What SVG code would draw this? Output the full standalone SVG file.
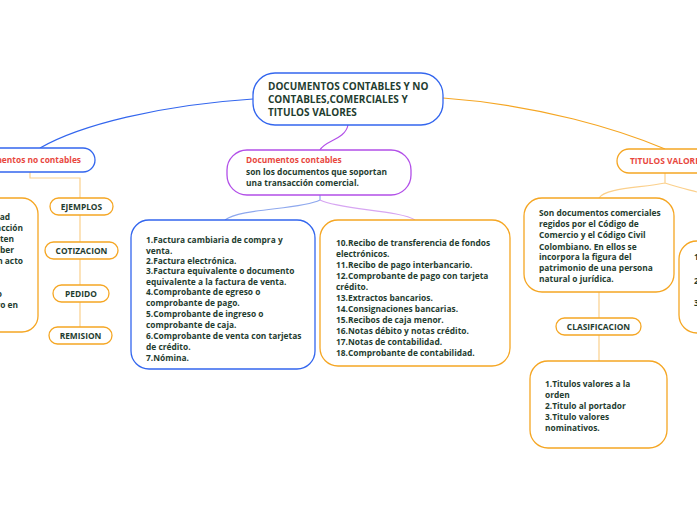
<svg xmlns="http://www.w3.org/2000/svg" width="697" height="520" viewBox="0 0 697 520">
<style>
text{font-family:"Open Sans","Noto Sans",sans-serif;font-weight:bold;font-size:8.4px;fill:#1f3d30}
.t{font-size:10px}
.r{fill:#e8473e}
.c{text-anchor:middle}
rect{fill:#fff;stroke-width:1.3}
.o{stroke:#f5a623}.b{stroke:#3366ee}.p{stroke:#b24fe8}
path{fill:none;stroke-width:1.2}
.lo{stroke:#fbd08c}
</style>
<rect width="697" height="520" fill="#fff" stroke="none"/>
<g id="connectors">
<path d="M253,99 C160,105 80,125 40,148" stroke="#3366ee"/>
<path d="M348,125 C345,140 325,140 320,150" stroke="#b24fe8"/>
<path d="M443,98 C540,105 620,130 665,149" stroke="#f5a623"/>
<path class="lo" d="M30,172 V178 H80 V327 M80,178 V198"/>
<path d="M320,195 V200 C300,210 240,208 225,220" stroke="#8ea8ee"/>
<path d="M320,200 C340,210 400,210 415,220" stroke="#d7a6f2"/>
<path class="lo" d="M665,173 V183 C640,188 605,188 599,198 M665,183 C680,188 690,190 697,192 M599,292 V318 M599,335 V361"/>
</g>
<g id="root"><rect class="b" x="253" y="73" width="190" height="52" rx="22"/>
<text class="t" x="268" y="90">DOCUMENTOS CONTABLES Y NO</text>
<text class="t" x="268" y="103">CONTABLES,COMERCIALES Y</text>
<text class="t" x="268" y="116">TITULOS VALORES</text></g>
<g id="nocontables"><rect class="b" x="-20" y="148" width="115" height="24" rx="12"/>
<text class="r" x="81" y="163" text-anchor="end">Documentos no contables</text></g>
<g id="nocontables-desc"><rect class="o" x="-30" y="198" width="68" height="134" rx="16"/>
<text x="10" y="220" text-anchor="end">lad</text>
<text x="23" y="231" text-anchor="end">acción</text>
<text x="14" y="242" text-anchor="end">ten</text>
<text x="14" y="253" text-anchor="end">ber</text>
<text x="23" y="264" text-anchor="end">n acto</text>
<text x="2" y="297" text-anchor="end">o</text>
<text x="18" y="308" text-anchor="end">ro en</text></g>
<g id="ejemplos"><rect class="o" x="50" y="198" width="63" height="17" rx="8.5"/><text class="c" x="81.5" y="210">EJEMPLOS</text></g>
<g id="cotizacion"><rect class="o" x="45" y="242" width="73" height="17" rx="8.5"/><text class="c" x="81.5" y="254">COTIZACION</text></g>
<g id="pedido"><rect class="o" x="53" y="285" width="56" height="17" rx="8.5"/><text class="c" x="81" y="297">PEDIDO</text></g>
<g id="remision"><rect class="o" x="49" y="327" width="63" height="17" rx="8.5"/><text class="c" x="80.5" y="339">REMISION</text></g>
<g id="contables"><rect class="p" x="227" y="150" width="184" height="45" rx="20"/>
<text class="r" x="246" y="163">Documentos contables</text>
<text x="246" y="175">son los documentos que soportan</text>
<text x="246" y="186">una transacción comercial.</text></g>
<g id="lista1"><rect class="b" x="131" y="220" width="184" height="149" rx="18"/>
<text x="146" y="243">1.Factura cambiaria de compra y</text>
<text x="146" y="254">venta.</text>
<text x="146" y="264">2.Factura electrónica.</text>
<text x="146" y="274">3.Factura equivalente o documento</text>
<text x="146" y="285">equivalente a la factura de venta.</text>
<text x="146" y="295">4.Comprobante de egreso o</text>
<text x="146" y="306">comprobante de pago.</text>
<text x="146" y="317">5.Comprobante de ingreso o</text>
<text x="146" y="328">comprobante de caja.</text>
<text x="146" y="339">6.Comprobante de venta con tarjetas</text>
<text x="146" y="350">de crédito.</text>
<text x="146" y="361">7.Nómina.</text></g>
<g id="lista2"><rect class="o" x="320" y="220" width="190" height="146" rx="18"/>
<text x="336" y="246">10.Recibo de transferencia de fondos</text>
<text x="336" y="257">electrónicos.</text>
<text x="336" y="268">11.Recibo de pago interbancario.</text>
<text x="336" y="279">12.Comprobante de pago con tarjeta</text>
<text x="336" y="290">crédito.</text>
<text x="336" y="301">13.Extractos bancarios.</text>
<text x="336" y="312">14.Consignaciones bancarias.</text>
<text x="336" y="323">15.Recibos de caja menor.</text>
<text x="336" y="334">16.Notas débito y notas crédito.</text>
<text x="336" y="345">17.Notas de contabilidad.</text>
<text x="336" y="356">18.Comprobante de contabilidad.</text></g>
<g id="titulos"><rect class="o" x="617" y="149" width="100" height="24" rx="12"/>
<text class="r" x="630" y="164">TITULOS  VALORES</text></g>
<g id="titulos-desc"><rect class="o" x="524" y="198" width="150" height="94" rx="18"/>
<text x="539" y="216"> Son documentos comerciales</text>
<text x="539" y="227">regidos por el Código de</text>
<text x="539" y="238">Comercio y el Código Civil</text>
<text x="539" y="250">Colombiano. En ellos se</text>
<text x="539" y="260">incorpora la figura del</text>
<text x="539" y="271">patrimonio de una persona</text>
<text x="539" y="282">natural o jurídica.</text></g>
<g id="clasificacion"><rect class="o" x="556" y="318" width="85" height="17" rx="8.5"/><text class="c" x="598.5" y="330">CLASIFICACION</text></g>
<g id="clases"><rect class="o" x="530" y="361" width="137" height="87" rx="18"/>
<text x="545" y="387"> 1.Titulos valores a la</text>
<text x="545" y="398">orden</text>
<text x="545" y="409">2.Titulo al portador</text>
<text x="545" y="420">3.Titulo valores</text>
<text x="545" y="431">nominativos.</text></g>
<g id="extra"><rect class="o" x="679" y="241" width="60" height="92" rx="18"/>
<text x="694" y="260">1</text><text x="694" y="284">2</text><text x="694" y="306">3</text></g>
</svg>
